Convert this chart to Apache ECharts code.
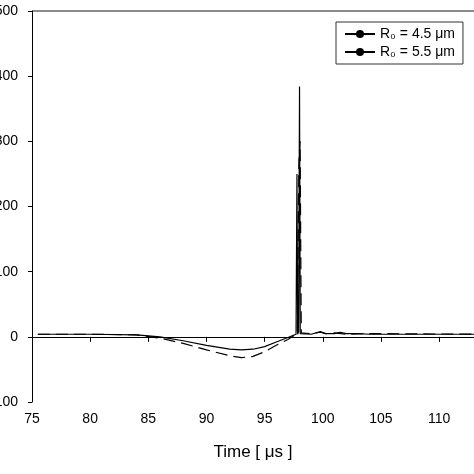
<!DOCTYPE html><html><head><meta charset="utf-8">
<script src="https://cdn.jsdelivr.net/npm/echarts@6/dist/echarts.min.js"></script>
<style>html,body{margin:0;background:#fff}#c{width:474px;height:474px}</style></head><body><div id="c"></div>
<script>
const xTicks=[75,80,85,90,95,100,105,110];
const solidR45=[[75.5,4],[80,4],[84,3],[86,0],[88,-6],[90,-13],[92,-19],[93,-20],[94,-19],[95,-15],[96,-8],[97,-1],[97.7,4],[97.78,250],[97.84,4],[97.92,8],[98.0,384],[98.06,5],[98.2,3],[99,4],[99.8,8],[100.2,5],[101,5],[101.5,7],[102,5],[103,5],[104,4],[113,4]];
const dashedR55=[[75.5,4],[80,4],[84,3],[86,-2],[88,-10],[90,-20],[92,-29],[93,-32],[94,-30],[95,-23],[96,-13],[97,-4],[97.8,5],[97.95,270],[98.05,300],[98.15,6],[99,5],[99.8,7],[100.3,5],[101,6],[102,4],[104,5],[113,4]];
const names=['R₀ = 4.5 μm','R₀ = 5.5 μm'];
const ch=echarts.init(document.getElementById('c'));
ch.setOption({animation:false,
grid:{left:32,right:0,top:11,bottom:72,containLabel:false,outerBoundsMode:'none'},
legend:{left:336,top:22,orient:'vertical',itemWidth:30,itemHeight:10,itemGap:4,padding:[5,8,5,8],borderColor:'#333',borderWidth:1,backgroundColor:'#fff',
 textStyle:{fontFamily:'Liberation Sans',fontSize:14,color:'#000'},
 data:names.map(n=>({name:n}))},
xAxis:{type:'value',min:75,max:113,interval:5,name:'Time [ μs ]',nameLocation:'middle',nameGap:42,
 nameTextStyle:{fontFamily:'Liberation Sans',fontSize:17,color:'#000'},
 axisLine:{lineStyle:{color:'#000'}},axisTick:{inside:false,length:5,lineStyle:{color:'#000'}},
 axisLabel:{fontFamily:'Liberation Sans',fontSize:14,color:'#000',margin:10,
  formatter:v=>xTicks.includes(v)?String(v):''},splitLine:{show:false}},
yAxis:{type:'value',min:-100,max:500,interval:100,
 axisLine:{show:true,lineStyle:{color:'#000'}},axisTick:{show:true,length:4,lineStyle:{color:'#000'}},
 axisLabel:{fontFamily:'Liberation Sans',fontSize:14,color:'#000',margin:14},splitLine:{show:false}},
graphic:[{type:'line',shape:{x1:32,y1:11,x2:474,y2:11},style:{stroke:'#666',lineWidth:1.5}}],
series:[
 {name:names[0],type:'line',data:solidR45,showSymbol:false,symbol:'none',lineStyle:{color:'#000',width:1.2},itemStyle:{color:'#000'}},
 {name:names[1],type:'line',data:dashedR55,showSymbol:false,symbol:'none',lineStyle:{color:'#000',width:1.2,type:[12,6]},itemStyle:{color:'#000'}}
]});
</script></body></html>
